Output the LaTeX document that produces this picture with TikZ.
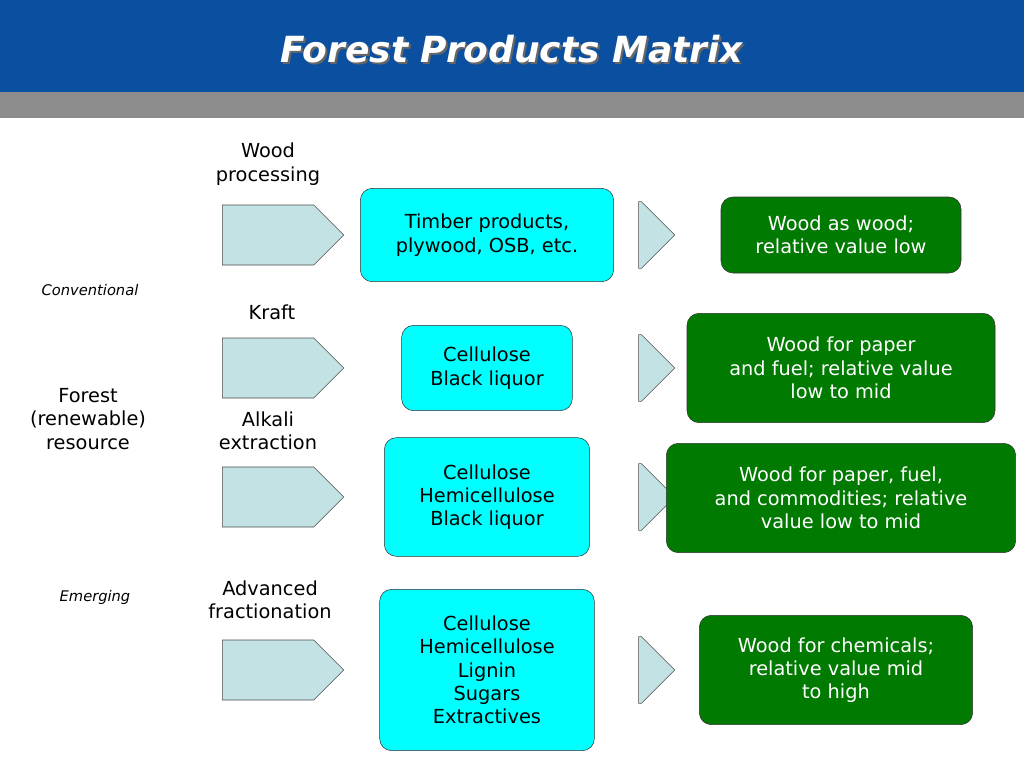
\documentclass[tikz,border=0pt]{standalone}
\usepackage{fontspec}
\setmainfont{DejaVu Sans}
\usetikzlibrary{shapes.arrows, positioning}
\definecolor{bandblue}{HTML}{0A4FA0}
\definecolor{bandgray}{HTML}{8C8C8C}
\definecolor{arrowfill}{HTML}{C2E2E4}
\definecolor{boxcyan}{HTML}{00FFFF}
\definecolor{boxgreen}{HTML}{007A00}
\tikzset{
  txt/.style={font=\fontsize{14.5}{17.5}\selectfont, align=center},
  cyanbox/.style={txt, draw=black!80, fill=boxcyan, rounded corners=9pt, inner sep=0pt},
  greenbox/.style={txt, draw=black!80, fill=boxgreen, text=white, rounded corners=9pt, inner sep=0pt},
  bigarrow/.style={single arrow, draw=black!70, fill=arrowfill, minimum width=45pt,
    single arrow head extend=0pt, single arrow head indent=0pt, minimum height=91pt, inner sep=0pt,
    shape border uses incircle=false},
  smallarrow/.style={single arrow, draw=black!70, fill=arrowfill, minimum width=50pt,
    single arrow head extend=0pt, minimum height=27pt, inner sep=0pt},
  side/.style={font=\fontsize{11}{13}\selectfont\itshape}
}
\begin{document}
\begin{tikzpicture}[x=0.75pt, y=-0.75pt]
  \useasboundingbox (0,0) rectangle (1024,768);
  % title bands
  \fill[bandblue] (0,0) rectangle (1024,92);
  \fill[bandgray] (0,92) rectangle (1024,118);
  \node[text=black!60, font=\fontsize{27}{30}\selectfont\bfseries\itshape] at (514,51) {Forest Products Matrix};
  \node[text=white, font=\fontsize{27}{30}\selectfont\bfseries\itshape] (title) at (512,49) {Forest Products Matrix};

  % left labels
  \node[side] (conv) at (90,290) {Conventional};
  \node[txt] (forest) at (88,419) {Forest\\(renewable)\\resource};
  \node[side] (emerg) at (95,597) {Emerging};

  % process labels
  \node[txt] (lwood) at (268,164) {Wood\\processing};
  \node[txt] (lkraft) at (272,312) {Kraft};
  \node[txt] (lalkali) at (268,431) {Alkali\\extraction};
  \node[txt] (ladv) at (270,600) {Advanced\\fractionation};

  % big arrows
  \node[bigarrow] (a1) at (268,235) {};
  \node[bigarrow] (a2) at (268,368) {};
  \node[bigarrow] (a3) at (268,497) {};
  \node[bigarrow] (a4) at (268,670) {};

  % cyan boxes
  \node[cyanbox, minimum width=190pt, minimum height=70pt] (c1) at (487,235) {Timber products,\\plywood, OSB, etc.};
  \node[cyanbox, minimum width=128pt, minimum height=64pt] (c2) at (487,368) {Cellulose\\Black liquor};
  \node[cyanbox, minimum width=154pt, minimum height=89pt] (c3) at (487,497) {Cellulose\\Hemicellulose\\Black liquor};
  \node[cyanbox, minimum width=161pt, minimum height=121pt] (c4) at (487,670) {Cellulose\\Hemicellulose\\Lignin\\Sugars\\Extractives};

  % small arrows
  \node[smallarrow] (s1) at (640,235) {};
  \node[smallarrow] (s2) at (640,368) {};
  \node[smallarrow] (s3) at (640,497) {};
  \node[smallarrow] (s4) at (640,670) {};

  % green boxes
  \node[greenbox, minimum width=180pt, minimum height=57pt] (g1) at (841,235) {Wood as wood;\\relative value low};
  \node[greenbox, minimum width=231pt, minimum height=82pt] (g2) at (841,368) {Wood for paper\\and fuel; relative value\\low to mid};
  \node[greenbox, minimum width=262pt, minimum height=82pt] (g3) at (841,498) {Wood for paper, fuel,\\and commodities; relative\\value low to mid};
  \node[greenbox, minimum width=205pt, minimum height=82pt] (g4) at (836,670) {Wood for chemicals;\\relative value mid\\to high};
\end{tikzpicture}
\end{document}
